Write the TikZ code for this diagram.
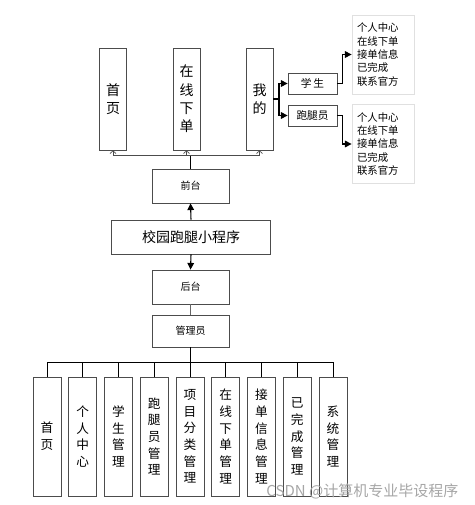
\documentclass[tikz,border=0pt]{standalone}
\usepackage{fontspec}
\setmainfont{Noto Sans CJK SC}
\usepackage{tikz}
\usetikzlibrary{arrows.meta}

\tikzset{
  vbox/.style={draw=black!70, line width=0.6pt, inner sep=0pt, align=center,
    minimum width=20.25pt, minimum height=76.5pt, font=\fontsize{10.5}{13.75}\selectfont},
  lowbox/.style={draw=black!70, line width=0.6pt, inner sep=0pt, align=center,
    minimum width=21pt, minimum height=89.25pt, font=\fontsize{9.5}{12.5}\selectfont},
  hbox/.style={draw=black!70, line width=0.6pt, inner sep=0pt,
    minimum width=57.75pt, minimum height=25.5pt, font=\fontsize{7.5}{9}\selectfont},
  rolebox/.style={draw=black!70, line width=0.6pt, inner sep=0pt,
    minimum width=36.75pt, minimum height=15.75pt, font=\fontsize{8}{9}\selectfont},
  infobox/.style={draw=black!12, line width=0.6pt, inner xsep=3.75pt, inner ysep=0pt,
    text width=39pt, minimum height=59.25pt, align=left, font=\fontsize{7.8}{10}\selectfont},
  link/.style={draw=black, line width=0.8pt},
  fill tip/.style={link, -{Triangle[length=5pt,width=5pt]}},
  open tip/.style={draw=black!70, line width=0.5pt, -{Straight Barb[length=2pt,width=4.5pt]}}
}

\begin{document}
\begin{tikzpicture}[x=0.75pt,y=0.75pt,yscale=-1,xscale=1]
\useasboundingbox (0,0) rectangle (474,505);

% Top Boxes
\draw (113,99) node (shouye) [vbox] {首\\页};
\draw (186.5,99) node (zaixian) [vbox] {在\\线\\下\\单};
\draw (259.5,99) node (wode) [vbox] {我\\的};

% Role Boxes
\draw (312.5,83.5) node (xuesheng) [rolebox] {学\,生};
\draw (312.5,115.5) node (paotui) [rolebox] {跑腿员};

% Info Boxes
\draw (383,54.5) node (info1) [infobox] {个人中心\\在线下单\\接单信息\\已完成\\联系官方};
\draw (383,144) node (info2) [infobox] {个人中心\\在线下单\\接单信息\\已完成\\联系官方};

% Middle Boxes
\draw (190.5,186) node (qiantai) [hbox] {前台};
\draw (191,237) node (xcx) [hbox, minimum width=119.25pt, font=\fontsize{10.5}{12}\selectfont] {校园跑腿小程序};
\draw (190.5,287) node (houtai) [hbox] {后台};
\draw (190.5,331) node (gly) [hbox, minimum height=24pt] {管理员};

% Bottom Boxes
\draw (47,436.5) node (b1) [lowbox] {首\\页};
\draw (82.75,436.5) node (b2) [lowbox] {个\\人\\中\\心};
\draw (118.5,436.5) node (b3) [lowbox] {学\\生\\管\\理};
\draw (154.25,436.5) node (b4) [lowbox] {跑\\腿\\员\\管\\理};
\draw (190,436.5) node (b5) [lowbox] {项\\目\\分\\类\\管\\理};
\draw (225.75,436.5) node (b6) [lowbox] {在\\线\\下\\单\\管\\理};
\draw (261.5,436.5) node (b7) [lowbox] {接\\单\\信\\息\\管\\理};
\draw (297.25,436.5) node (b8) [lowbox] {已\\完\\成\\管\\理};
\draw (333,436.5) node (b9) [lowbox] {系\\统\\管\\理};

% Bus Points
\coordinate (tbus) at (190.5,155);
\coordinate (rbus) at (279,99);
\coordinate (bbus) at (190.5,362);

%Straight Lines 
\draw [link] (qiantai.north) -- (tbus);
\draw [open tip] (tbus) -| (shouye.south);
\draw [open tip] (tbus) -| (zaixian.south);
\draw [open tip] (tbus) -| (wode.south);
\draw [link] (wode.east) -- (rbus);
\draw [fill tip] (rbus) |- (xuesheng.west);
\draw [fill tip] (rbus) |- (paotui.west);
\draw [fill tip] (xuesheng.east) -- ++(5,0) |- (info1.west);
\draw [fill tip] (paotui.east) -- ++(5,0) |- (info2.west);
\draw [fill tip] (xcx.north) -- (qiantai.south);
\draw [fill tip] (xcx.south) -- (houtai.north);
\draw [draw=black!60, line width=0.5pt] (houtai.south) -- (gly.north);
\draw [link] (gly.south) -- (bbus);
\draw [link, line width=0.6pt] (bbus) -| (b1.north);
\draw [link, line width=0.6pt] (bbus) -| (b2.north);
\draw [link, line width=0.6pt] (bbus) -| (b3.north);
\draw [link, line width=0.6pt] (bbus) -| (b4.north);
\draw [link, line width=0.6pt] (bbus) -| (b5.north);
\draw [link, line width=0.6pt] (bbus) -| (b6.north);
\draw [link, line width=0.6pt] (bbus) -| (b7.north);
\draw [link, line width=0.6pt] (bbus) -| (b8.north);
\draw [link, line width=0.6pt] (bbus) -| (b9.north);

% Text Node
\draw (463,491) node (wm) [anchor=east, text=black!35, font=\fontsize{11.25}{13}\selectfont] {CSDN @计算机专业毕设程序};

\end{tikzpicture}
\end{document}
